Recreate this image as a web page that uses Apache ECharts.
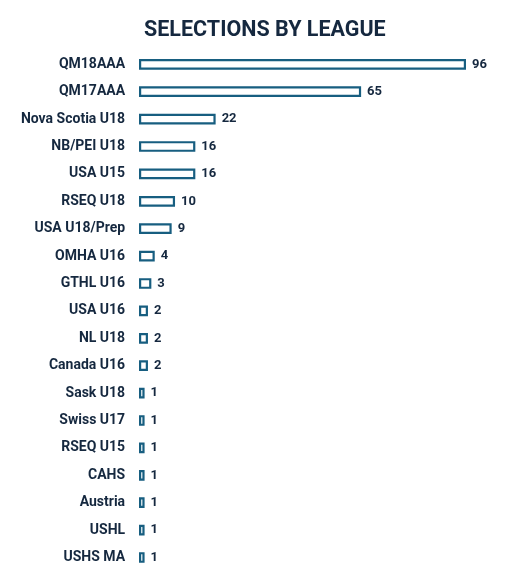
<!DOCTYPE html>
<html><head><meta charset="utf-8">
<script src="https://cdn.jsdelivr.net/npm/echarts@6/dist/echarts.min.js"></script>
<style>html,body{margin:0;padding:0;background:#fff}#c{width:508px;height:588px}</style>
</head><body><div id="c"></div>
<script>
const leagues = ["QM18AAA","QM17AAA","Nova Scotia U18","NB/PEI U18","USA U15","RSEQ U18","USA U18/Prep","OMHA U16","GTHL U16","USA U16","NL U18","Canada U16","Sask U18","Swiss U17","RSEQ U15","CAHS","Austria","USHL","USHS MA"];
const selections = [96,65,22,16,16,10,9,4,3,2,2,2,1,1,1,1,1,1,1];
const titleText = "SELECTIONS BY LEAGUE";

const BORDER = 2.2, BAR_H = 8.5;
const chart = echarts.init(document.getElementById('c'), null, {renderer:'canvas'});
chart.setOption({
  backgroundColor:'#fff',
  animation:false,
  title:{text:titleText,left:139,top:15,textStyle:{fontFamily:'Roboto',fontWeight:'bold',fontSize:21.5,color:'#15283f'}},
  grid:{left:140.1,right:43.1,top:50.6,bottom:16.8,containLabel:false},
  xAxis:{type:'value',min:0,max:96,show:false},
  yAxis:{type:'category',data:leagues,inverse:true,
    axisLine:{show:false},axisTick:{show:false},
    axisLabel:{margin:15,fontFamily:'Roboto',fontWeight:'bold',fontSize:14,color:'#15283f'}},
  series:[{type:'custom',clip:false,
    data:selections.map((v,i)=>[v,i]),
    encode:{x:0,y:1},
    renderItem:function(params, api){
      const v = api.value(0), c = api.value(1);
      const p0 = api.coord([0,c]), p1 = api.coord([v,c]);
      return {type:'group',children:[
        {type:'rect',shape:{x:p0[0],y:p0[1]-BAR_H/2,width:p1[0]-p0[0],height:BAR_H},
         style:{fill:'#ffffff',stroke:'#175e80',lineWidth:BORDER}},
        {type:'text',x:p1[0]+BORDER/2+6,y:p1[1],
         style:{text:String(v),fill:'#15283f',font:'bold 13px Roboto',verticalAlign:'middle',align:'left'}}
      ]};
    }}]
});
</script></body></html>
